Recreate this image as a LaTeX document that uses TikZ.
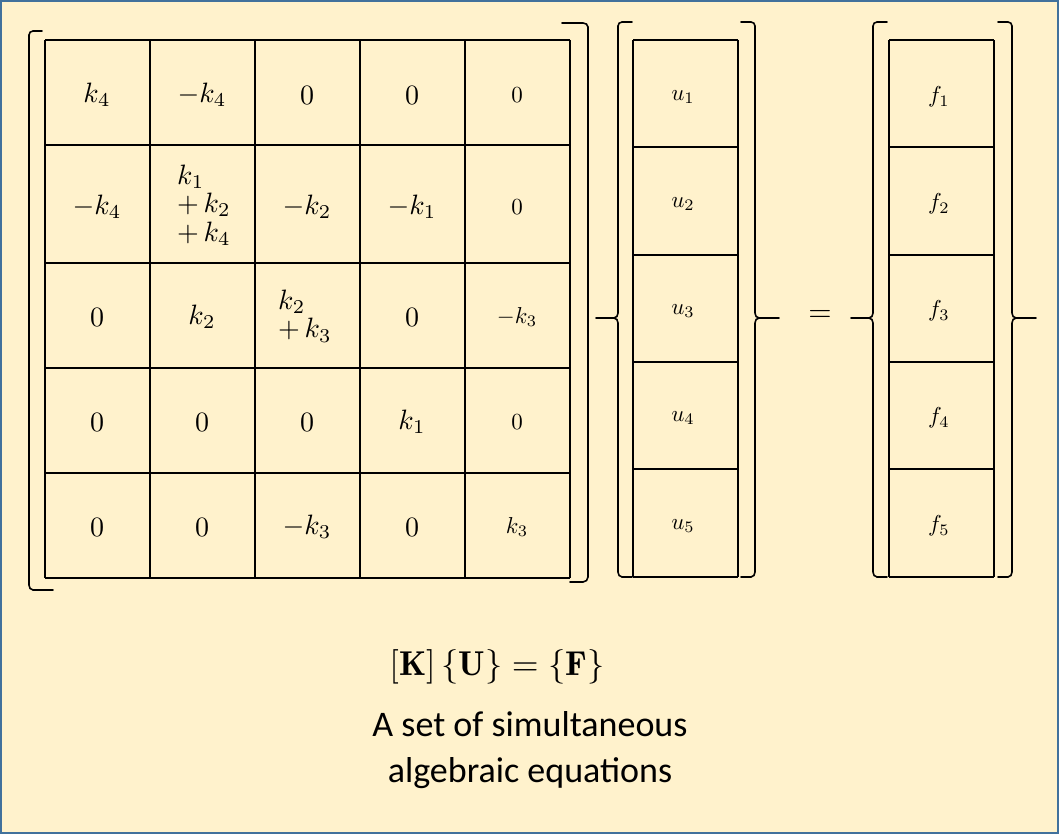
\documentclass[tikz,border=0pt]{standalone}
\usepackage{graphicx}
\usepackage{fontspec}
\newfontfamily\capfont{Carlito}
\newcommand\cs[1]{\scalebox{2.8}{#1}}
\newcommand\vs[1]{\scalebox{2.3}{#1}}
\newcommand\stk[1]{\scalebox{2.8}{\begin{tabular}{@{}l@{}}#1\end{tabular}}}
\renewcommand\arraystretch{0.85}
\begin{document}
\begin{tikzpicture}[x=1pt,y=-1pt,
  ln/.style={line width=1.6pt,black},
  br/.style={line width=1.6pt,black,line cap=round}]
\definecolor{bg}{HTML}{FFF2CC}
\definecolor{bd}{HTML}{41719C}
\fill[bg] (0,0) rectangle (1059,834);
\draw[bd,line width=2pt] (1,1) rectangle (1058,833);
\useasboundingbox (0,0) rectangle (1059,834);
% matrix grid
\foreach \x in {45,150,255,360,465,570} \draw[ln] (\x,40) -- (\x,578);
\foreach \y in {40,145,263,368,473,578} \draw[ln] (45,\y) -- (570,\y);
\node (m11) at (97,95) {\cs{$k_4$}};
\node (m12) at (202,95) {\cs{$-k_4$}};
\node (m13) at (307,95) {\cs{$0$}};
\node (m14) at (412,95) {\cs{$0$}};
\node (m15) at (517,95) {\vs{$0$}};
\node (m21) at (97,207) {\cs{$-k_4$}};
\node (m22) at (204,207) {\stk{$k_1$\\$+\,k_2$\\$+\,k_4$}};
\node (m23) at (307,207) {\cs{$-k_2$}};
\node (m24) at (412,207) {\cs{$-k_1$}};
\node (m25) at (517,207) {\vs{$0$}};
\node (m31) at (97,317) {\cs{$0$}};
\node (m32) at (202,317) {\cs{$k_2$}};
\node (m33) at (305,318) {\stk{$k_2$\\$+\,k_3$}};
\node (m34) at (412,317) {\cs{$0$}};
\node (m35) at (517,317) {\vs{$-k_3$}};
\node (m41) at (97,422) {\cs{$0$}};
\node (m42) at (202,422) {\cs{$0$}};
\node (m43) at (307,422) {\cs{$0$}};
\node (m44) at (412,422) {\cs{$k_1$}};
\node (m45) at (517,422) {\vs{$0$}};
\node (m51) at (97,527) {\cs{$0$}};
\node (m52) at (202,527) {\cs{$0$}};
\node (m53) at (307,527) {\cs{$-k_3$}};
\node (m54) at (412,527) {\cs{$0$}};
\node (m55) at (517,527) {\vs{$k_3$}};
% matrix brackets
\draw[br] (42,31) -- (33,31) to[out=180,in=90] (29,35) -- (29,585) to[out=-90,in=180] (33,590) -- (53,590);
\draw[br] (562,23) -- (583,23) to[out=0,in=90] (588,27) -- (588,577) to[out=-90,in=0] (583,582) -- (570,582);
% vectors
\foreach \x/\v/\n in {633/u/u,889/f/f}{
  \foreach \y in {40,147,255,362,469,577} \draw[ln] (\x,\y) -- (\x+105,\y);
  \draw[ln] (\x,40) -- (\x,577); \draw[ln] (\x+105,40) -- (\x+105,577);
  \foreach \i/\y in {1/97,2/204,3/311,4/418,5/526}
    \node (\n\i) at (\x+50,\y) {\vs{$\v_{\i}$}};
}
% braces
\foreach \l/\r in {618/755,873/1012}{
  \draw[br] (\l+14,22) -- (\l+4,22) to[out=180,in=90] (\l,26) -- (\l,313) to[out=-90,in=0] (\l-4,318) -- (\l-22,318);
  \draw[br] (\l-4,318) to[out=0,in=90] (\l,323) -- (\l,572) to[out=-90,in=180] (\l+4,577) -- (\l+14,577);
  \draw[br] (\r-14,22) -- (\r-4,22) to[out=0,in=90] (\r,26) -- (\r,313) to[out=-90,in=180] (\r+4,318) -- (\r+24,318);
  \draw[br] (\r+4,318) to[out=180,in=90] (\r,323) -- (\r,572) to[out=-90,in=0] (\r-4,577) -- (\r-14,577);
}
\node (eq) at (820,316) {\scalebox{3}{$=$}};
\node (main) at (497,667) {\scalebox{3.45}{$[\mathbf{K}]\,\{\mathbf{U}\}=\{\mathbf{F}\}$}};
\node[font=\capfont\fontsize{36}{46}\selectfont,align=center] (cap) at (530,750) {A set of simultaneous\\algebraic equations};
\end{tikzpicture}
\end{document}
